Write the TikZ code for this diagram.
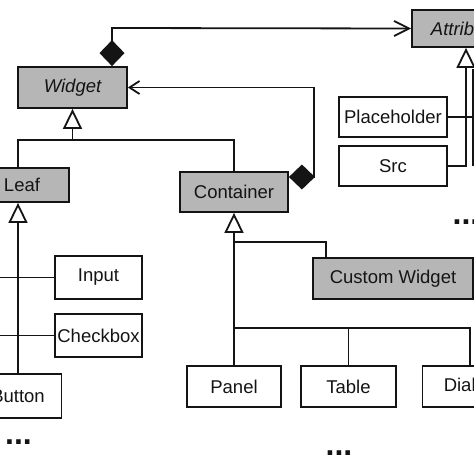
\documentclass[tikz,border=0pt]{standalone}
\usepackage{fontspec}
\setmainfont{Liberation Sans}
\usetikzlibrary{arrows.meta}
\definecolor{boxgray}{RGB}{182,182,182}
\definecolor{ink}{RGB}{20,20,20}
\begin{document}
\begin{tikzpicture}[x=1pt,y=-1pt,line width=1.8pt,draw=ink,
  box/.style={draw=ink,rectangle,inner sep=0pt,fill=white,text=ink,font=\fontsize{18.5}{22}\selectfont},
  gbox/.style={box,fill=boxgray},
  ital/.style={font=\fontsize{18.5}{22}\selectfont\itshape},
  gen/.style={-{Triangle[open,length=20pt,width=19pt,fill=white]}},
  comp/.style={{Diamond[length=26pt,width=25pt]}-{Straight Barb[length=10pt,width=13pt]}},
  comp2/.style={{Diamond[length=26pt,width=25pt]}-{Straight Barb[length=15pt,width=15pt]}},
  dots/.style={inner sep=0pt,text=ink,font=\fontsize{32}{32}\selectfont\bfseries}]
\useasboundingbox (0,0) rectangle (474,474);
\clip (0,0) rectangle (474,474);
\fill[white] (0,0) rectangle (474,474);
% nodes
\node[gbox,ital,minimum width=109,minimum height=41] (widget) at (72.5,87.5) {Widget};
\node[gbox,ital,minimum width=116,minimum height=37] (attrib) at (470,28.5) {Attributes};
\node[gbox,minimum width=102,minimum height=34] (leaf) at (18,185) {\hspace*{8pt}Leaf};
\node[gbox,minimum width=108,minimum height=40] (container) at (234,192) {Container};
\node[gbox,minimum width=160,minimum height=41] (cw) at (393,278.5) {Custom Widget};
\node[box,minimum width=87,minimum height=43] (input) at (98.5,277.5) {Input};
\node[box,minimum width=87,minimum height=43] (checkbox) at (98.5,335.5) {Checkbox};
\node[box,minimum width=87,minimum height=44] (button) at (18,396) {Button};
\node[box,minimum width=94,minimum height=41] (panel) at (234,386.5) {Panel};
\node[box,minimum width=95,minimum height=41] (table) at (348.5,386.5) {Table};
\node[box,minimum width=95,minimum height=41] (dial) at (470,386.5) {Dialog};
\node[box,minimum width=108,minimum height=40] (ph) at (393,117) {Placeholder};
\node[box,minimum width=108,minimum height=40] (src) at (393,166) {Src};
\node[dots] (d1) at (18.5,442) {...};
\node[dots] (d2) at (339,453) {...};
\node[dots] (d3) at (466,222) {...};
% coordinates
\coordinate (wd) at (widget.north -| 112,0);
\coordinate (cd) at (container.east |- 0,177);
\coordinate (gw) at (72.5,140);
\coordinate (cwtop) at (cw.north -| 326,0);
\coordinate (cwbr) at (234,242);
\coordinate (bus) at (234,328);
\coordinate (ag) at (attrib.south -| 466,0);
\coordinate (phend) at (490,117);
\coordinate (in0) at (-20,277.5);
\coordinate (ch0) at (-20,335.5);
\coordinate (rv1) at (473,69);
\coordinate (rv2) at (473,166);
% connectors
\draw[comp2] (wd) -- (112,28) -- (attrib.west);
\draw[comp] (cd) -- (314,177) -- (314,87.5) -- (widget.east);
\draw[gen] (leaf.north) |- (gw) -- (widget.south);
\draw (container.north) |- (gw);
\draw[gen] (button.north) -- (leaf.south);
\draw (input.west) -- (in0);
\draw (checkbox.west) -- (ch0);
\draw[gen] (panel.north) -- (container.south);
\draw (cwtop) |- (cwbr);
\draw (bus) -| (dial.north);
\draw (table.north) -- (table.north |- bus);
\draw (rv1) -- (rv2);
\draw (ph.east) -- (phend);
\draw[gen] (src.east) -| (ag);
\end{tikzpicture}
\end{document}
